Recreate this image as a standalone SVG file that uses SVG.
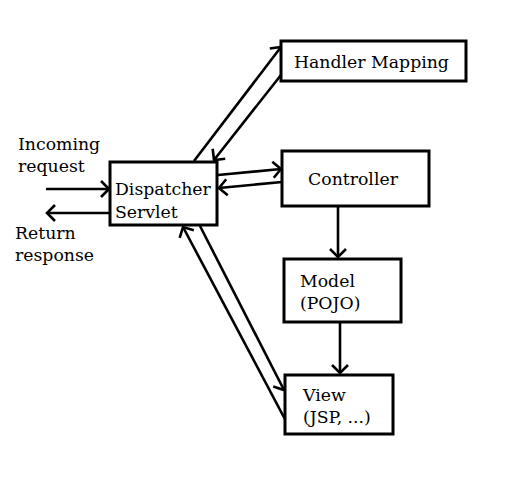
<svg xmlns="http://www.w3.org/2000/svg" width="515" height="482" viewBox="0 0 515 482">
<style>
.box{fill:#fff;stroke:#000;stroke-width:3}
.t{font-family:"DejaVu Serif","Liberation Serif",serif;font-size:17.3px;fill:#000}
.ln{fill:none;stroke:#000;stroke-width:2.6;marker-end:url(#arr)}
</style>
<defs>
<marker id="arr" viewBox="-12 -12 14 24" refX="0" refY="0" markerWidth="14" markerHeight="24" markerUnits="userSpaceOnUse" orient="auto" overflow="visible">
<path d="M-8,-8 L0,0 L-8,8" fill="none" stroke="#000" stroke-width="2.6"/>
</marker>
</defs>
<rect width="515" height="482" fill="#fff"/>
<g id="connectors">
<line class="ln" x1="46" y1="189" x2="109" y2="189"/>
<line class="ln" x1="110" y1="213" x2="47" y2="213"/>
<line class="ln" x1="194" y1="161" x2="281" y2="47"/>
<line class="ln" x1="281" y1="75" x2="214" y2="160"/>
<line class="ln" x1="218" y1="175" x2="281" y2="169"/>
<line class="ln" x1="282" y1="182" x2="219" y2="188"/>
<line class="ln" x1="338" y1="207" x2="338" y2="257"/>
<line class="ln" x1="340" y1="323" x2="340" y2="373"/>
<line class="ln" x1="200" y1="226" x2="284" y2="390"/>
<line class="ln" x1="287" y1="423" x2="183" y2="227"/>
</g>
<g id="incoming">
<text class="t" x="18" y="150">Incoming</text>
<text class="t" x="18" y="172">request</text>
</g>
<g id="return">
<text class="t" x="15" y="239">Return</text>
<text class="t" x="15" y="261">response</text>
</g>
<g id="dispatcher">
<rect class="box" x="110" y="162" width="107" height="63"/>
<text class="t" x="115" y="195">Dispatcher</text>
<text class="t" x="115" y="218">Servlet</text>
</g>
<g id="handler-mapping">
<rect class="box" x="281" y="41" width="185" height="40"/>
<text class="t" x="294" y="68">Handler Mapping</text>
</g>
<g id="controller">
<rect class="box" x="282" y="151" width="147" height="55"/>
<text class="t" x="308" y="185">Controller</text>
</g>
<g id="model">
<rect class="box" x="284" y="259" width="117" height="63"/>
<text class="t" x="300" y="287">Model</text>
<text class="t" x="300" y="309">(POJO)</text>
</g>
<g id="view">
<rect class="box" x="285" y="375" width="108" height="59"/>
<text class="t" x="303" y="401">View</text>
<text class="t" x="303" y="423">(JSP, ...)</text>
</g>
</svg>
